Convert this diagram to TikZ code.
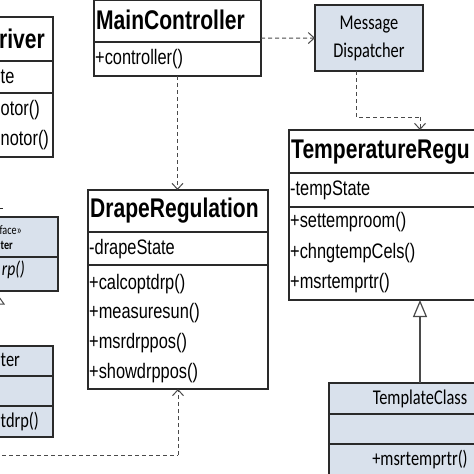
\documentclass[tikz,border=0pt]{standalone}
\usepackage{fontspec}
\setmainfont{Liberation Sans}[FakeStretch=0.78]
\newfontfamily\calib{Carlito}[FakeStretch=0.78]
\usetikzlibrary{arrows.meta}
\definecolor{umlblue}{HTML}{D9E1EC}
\definecolor{edgecol}{HTML}{2A2A2A}
\definecolor{conncol}{HTML}{4A4A4A}
\begin{document}
\begin{tikzpicture}[x=1pt,y=-1pt,
  box/.style={draw=edgecol, line width=1.3pt, inner sep=0pt, outer sep=0pt},
  bluebox/.style={box, fill=umlblue},
  sepl/.style={draw=edgecol, line width=1.3pt},
  hd/.style={font=\fontsize{27}{30}\selectfont\bfseries, inner sep=0pt},
  tx/.style={font=\fontsize{21}{24}\selectfont, inner sep=0pt},
  ctx/.style={font=\calib\fontsize{21}{28}\selectfont, inner sep=0pt},
  dep/.style={draw=conncol, line width=1pt, dash pattern=on 4pt off 3pt, -{Straight Barb[length=6pt,width=11pt]}},
  depl/.style={draw=conncol, line width=1pt, dash pattern=on 4pt off 3pt},
  gen/.style={draw=conncol, line width=1.2pt, -{Triangle[open, length=17pt, width=14pt, fill=white]}}
]
\useasboundingbox (0,0) rectangle (474,474);
\clip (0,0) rectangle (474,474);
\fill[white] (0,0) rectangle (474,474);

% Driver (clipped)
\node[box, minimum width=113pt, minimum height=140pt] (driver) at (-3.5,87) {};
\draw[sepl] (-60,61) -- (53,61);
\draw[sepl] (-60,93) -- (53,93);
\node[hd, anchor=east] (drvh) at (45,39) {river};
\node[tx, anchor=west] (drva) at (0.5,77) {te};
\node[tx, anchor=west] (drvm1) at (0.5,110) {otor()};
\node[tx, anchor=west] (drvm2) at (0.5,140) {notor()};

% fragments near the interface
\draw[edgecol, line width=1pt] (-2,208) -- (3,208);
\draw[conncol, line width=1pt] (-6,304) -- (4,304) -- (-1,297);

% Interface (clipped)
\node[bluebox, minimum width=118pt, minimum height=74pt] (iface) at (-1,254) {};
\draw[sepl] (-60,257) -- (58,257);
\node[font=\calib\fontsize{13}{15}\selectfont, inner sep=0pt, anchor=east] (ifs) at (22,230) {face»};
\node[font=\calib\fontsize{13}{15}\selectfont\bfseries, inner sep=0pt, anchor=east] (ifn) at (13,245) {ter};
\node[font=\calib\fontsize{20}{24}\selectfont\itshape, inner sep=0pt, anchor=east] (ifm) at (25,270) {rp()};

% Adapter (clipped)
\node[bluebox, minimum width=113pt, minimum height=91pt] (adapt) at (-3.5,391.5) {};
\draw[sepl] (-60,376) -- (53,376);
\draw[sepl] (-60,406) -- (53,406);
\node[ctx, anchor=west] (adn) at (0.5,360) {ter};
\node[ctx, anchor=west] (adm) at (0.5,422) {tdrp()};

% MainController
\node[box, minimum width=167pt, minimum height=75.5pt] (main) at (177.5,38.25) {};
\draw[sepl] (94,42) -- (261,42);
\node[hd, anchor=west] (mainh) at (96,20) {MainController};
\node[tx, anchor=west] (mainm) at (95,59) {+controller()};

% Message Dispatcher
\node[bluebox, minimum width=108pt, minimum height=66pt] (disp) at (369,38) {};
\node[ctx, align=center] (disptxt) at (369,38) {Message\\Dispatcher};

% TemperatureRegulation
\node[box, minimum width=271pt, minimum height=170pt] (temp) at (424.5,215) {};
\draw[sepl] (289,173) -- (560,173);
\draw[sepl] (289,207) -- (560,207);
\node[hd, anchor=west] (temph) at (291,152) {TemperatureRegu};
\node[tx, anchor=west] (tempa) at (290,190) {-tempState};
\node[tx, anchor=west] (tempm1) at (290,222) {+settemproom()};
\node[tx, anchor=west] (tempm2) at (290,253) {+chngtempCels()};
\node[tx, anchor=west] (tempm3) at (290,283) {+msrtemprtr()};

% DrapeRegulation
\node[box, minimum width=180pt, minimum height=199pt] (drape) at (178,289.5) {};
\draw[sepl] (88,232) -- (268,232);
\draw[sepl] (88,265) -- (268,265);
\node[hd, anchor=west] (drapeh) at (90,211) {DrapeRegulation};
\node[tx, anchor=west] (drapea) at (89,249) {-drapeState};
\node[tx, anchor=west] (drapem1) at (89,284) {+calcoptdrp()};
\node[tx, anchor=west] (drapem2) at (89,313) {+measuresun()};
\node[tx, anchor=west] (drapem3) at (89,343) {+msrdrppos()};
\node[tx, anchor=west] (drapem4) at (89,373) {+showdrppos()};

% TemplateClass
\node[bluebox, minimum width=182pt, minimum height=137pt] (templ) at (420,451.5) {};
\draw[sepl] (329,414) -- (511,414);
\draw[sepl] (329,444) -- (511,444);
\node[ctx] (templh) at (420,399) {TemplateClass};
\node[ctx] (templm) at (420,460) {+msrtemprtr()};

% Connectors
\draw[dep] (main.east) -- (disp.west);
\coordinate (d1) at (356,117);
\coordinate (d2) at (420,117);
\draw[depl] (disp.south -| d1) -- (d1) -- (d2);
\draw[dep] (d2) -- (d2 |- temp.north);
\draw[dep] (main.south) -- (main.south |- drape.north);
\coordinate (d0) at (-5,455);
\coordinate (d3) at (178,455);
\draw[depl] (d0) -- (d3);
\draw[dep] (d3) -- (d3 |- drape.south);
\draw[gen] (templ.north) -- (templ.north |- temp.south);
\end{tikzpicture}
\end{document}
